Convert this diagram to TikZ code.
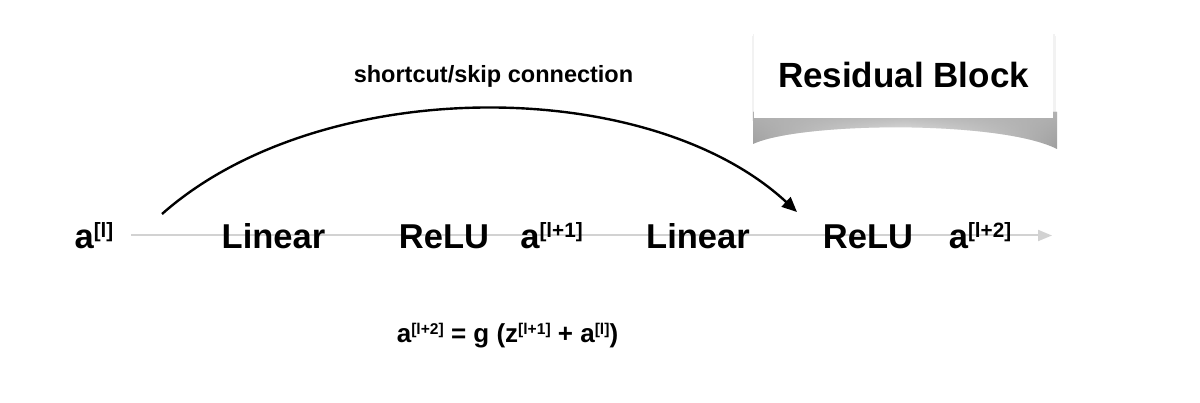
\documentclass[tikz,border=0pt]{standalone}
\usepackage{fontspec}
\setmainfont{Liberation Sans}
\usepackage{graphicx}
\usetikzlibrary{arrows.meta,fadings}
\newcommand\Sup[1]{\raisebox{0.33em}{\scalebox{0.6}{#1}}}
\definecolor{flowgray}{HTML}{D2D2D2}
\begin{document}
\begin{tikzpicture}[x=1pt,y=-1pt,
  lbl/.style={font=\fontsize{34.5}{40}\selectfont\bfseries, inner sep=0pt, anchor=base},
  small/.style={font=\fontsize{23.5}{27}\selectfont\bfseries, inner sep=0pt, anchor=base},
  eqstyle/.style={font=\fontsize{26}{30}\selectfont\bfseries, inner sep=0pt, anchor=base},
  title/.style={font=\fontsize{35}{40}\selectfont\bfseries, inner sep=0pt, anchor=base},
  flow/.style={draw=flowgray, line width=2pt, -{Triangle[length=14pt,width=11pt]}},
  skip/.style={draw=black, line width=2.4pt, -{Triangle[length=15pt,width=13pt]}},
  boxshape/.style={fill=white, draw=none}
]
\useasboundingbox (0,0) rectangle (1200,403);

% flow line
\coordinate (flowstart) at (131,235.5);
\coordinate (flowend) at (1052,235.5);
\draw[flow] (flowstart) -- (flowend);

% main labels
\node[lbl] (al)    at (94,249)  {a\Sup{[l]}};
\node[lbl] (lin1)  at (273.5,249) {Linear};
\node[lbl] (relu1) at (444,249) {ReLU};
\node[lbl] (al1)   at (551.5,249) {a\Sup{[l+1]}};
\node[lbl] (lin2)  at (698,249) {Linear};
\node[lbl] (relu2) at (868,249) {ReLU};
\node[lbl] (al2)   at (980,249) {a\Sup{[l+2]}};

% skip connection
\coordinate (skipstart) at (162,214);
\coordinate (skipend) at (797,212);
\draw[skip] (skipstart) .. controls (320,74) and (648,74) .. (skipend);
\node[small] (skiplabel) at (493.5,83) {shortcut/skip connection};

% equation
\node[eqstyle] (eq) at (507.5,343) {a\Sup{[l+2]} = g (z\Sup{[l+1]} + a\Sup{[l]})};

% residual block box with curl shadow
\fill[black!5] (751.5,36) rectangle (1055.5,121);
\fill[black!5] (752.5,34) rectangle (1054.5,121);
\shade[left color=black!38, right color=black!38, middle color=white]
  (753,112) -- (753,144) .. controls (800,122) and (1000,120) .. (1057,149) -- (1057,112) -- cycle;
\fill[black!30, path fading=south]
  (753,112) -- (753,144) .. controls (800,122) and (1000,120) .. (1057,149) -- (1057,112) -- cycle;
\node[boxshape, minimum width=299pt, minimum height=85pt, inner sep=0pt] (box) at (903.5,75.5) {};
\node[title] (title) at (903.5,88) {Residual Block};
\end{tikzpicture}
\end{document}
